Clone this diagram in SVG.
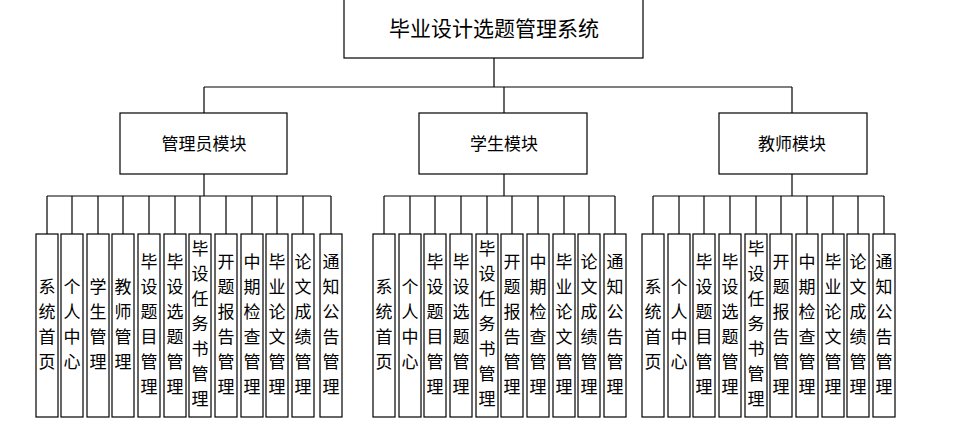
<svg xmlns="http://www.w3.org/2000/svg" width="963" height="430" viewBox="0 0 963 430">
<style>
rect{fill:#fff;stroke:#000;stroke-width:1.2}
path{fill:none;stroke:#000;stroke-width:1.2}
text{font-family:"Noto Sans CJK SC",sans-serif;fill:#000;text-anchor:middle}
.l{font-size:17px}
</style>
<rect width="963" height="430" style="stroke:none"/>
<g id="connectors">
<path d="M494 58V87M204 87H792M204 87V113M504 87V113M792 87V113"/>
<path d="M204 174V196M47 196H331M47 196V234M72 196V234M98 196V234M123 196V234M149 196V234M175 196V234M200 196V234M226 196V234M252 196V234M277 196V234M303 196V234M331 196V234"/>
<path d="M504 174V196M384 196H615M384 196V234M410 196V234M435 196V234M461 196V234M487 196V234M512 196V234M538 196V234M564 196V234M589 196V234M615 196V234"/>
<path d="M792 174V196M653 196H884M653 196V234M679 196V234M704 196V234M730 196V234M756 196V234M781 196V234M807 196V234M833 196V234M858 196V234M884 196V234"/>
</g>
<g id="root"><rect x="344" y="-1" width="299" height="59"/><text x="494" y="36" font-size="21">毕业设计选题管理系统</text></g>
<g id="m1"><rect x="120" y="113" width="167" height="61"/><text x="204" y="150" font-size="17">管理员模块</text></g>
<g id="m2"><rect x="419" y="113" width="168" height="61"/><text x="504" y="150" font-size="17">学生模块</text></g>
<g id="m3"><rect x="719" y="113" width="148" height="61"/><text x="792" y="150" font-size="17">教师模块</text></g>
<g id="a1"><rect x="36" y="234" width="22" height="183"/><text class="l" x="47"><tspan x="47" y="293">系</tspan><tspan x="47" dy="25">统</tspan><tspan x="47" dy="25">首</tspan><tspan x="47" dy="25">页</tspan></text></g>
<g id="a2"><rect x="61" y="234" width="22" height="183"/><text class="l" x="72"><tspan x="72" y="293">个</tspan><tspan x="72" dy="25">人</tspan><tspan x="72" dy="25">中</tspan><tspan x="72" dy="25">心</tspan></text></g>
<g id="a3"><rect x="87" y="234" width="22" height="183"/><text class="l"><tspan x="98" y="293">学</tspan><tspan x="98" dy="25">生</tspan><tspan x="98" dy="25">管</tspan><tspan x="98" dy="25">理</tspan></text></g>
<g id="a4"><rect x="112" y="234" width="22" height="183"/><text class="l"><tspan x="123" y="293">教</tspan><tspan x="123" dy="25">师</tspan><tspan x="123" dy="25">管</tspan><tspan x="123" dy="25">理</tspan></text></g>
<g id="a5"><rect x="138" y="234" width="22" height="183"/><text class="l"><tspan x="149" y="268">毕</tspan><tspan x="149" dy="25">设</tspan><tspan x="149" dy="25">题</tspan><tspan x="149" dy="25">目</tspan><tspan x="149" dy="25">管</tspan><tspan x="149" dy="25">理</tspan></text></g>
<g id="a6"><rect x="164" y="234" width="22" height="183"/><text class="l"><tspan x="175" y="268">毕</tspan><tspan x="175" dy="25">设</tspan><tspan x="175" dy="25">选</tspan><tspan x="175" dy="25">题</tspan><tspan x="175" dy="25">管</tspan><tspan x="175" dy="25">理</tspan></text></g>
<g id="a7"><rect x="189" y="234" width="22" height="183"/><text class="l"><tspan x="200" y="255">毕</tspan><tspan x="200" dy="25">设</tspan><tspan x="200" dy="25">任</tspan><tspan x="200" dy="25">务</tspan><tspan x="200" dy="25">书</tspan><tspan x="200" dy="25">管</tspan><tspan x="200" dy="25">理</tspan></text></g>
<g id="a8"><rect x="215" y="234" width="22" height="183"/><text class="l"><tspan x="226" y="268">开</tspan><tspan x="226" dy="25">题</tspan><tspan x="226" dy="25">报</tspan><tspan x="226" dy="25">告</tspan><tspan x="226" dy="25">管</tspan><tspan x="226" dy="25">理</tspan></text></g>
<g id="a9"><rect x="241" y="234" width="22" height="183"/><text class="l"><tspan x="252" y="268">中</tspan><tspan x="252" dy="25">期</tspan><tspan x="252" dy="25">检</tspan><tspan x="252" dy="25">查</tspan><tspan x="252" dy="25">管</tspan><tspan x="252" dy="25">理</tspan></text></g>
<g id="a10"><rect x="266" y="234" width="22" height="183"/><text class="l"><tspan x="277" y="268">毕</tspan><tspan x="277" dy="25">业</tspan><tspan x="277" dy="25">论</tspan><tspan x="277" dy="25">文</tspan><tspan x="277" dy="25">管</tspan><tspan x="277" dy="25">理</tspan></text></g>
<g id="a11"><rect x="292" y="234" width="22" height="183"/><text class="l"><tspan x="303" y="268">论</tspan><tspan x="303" dy="25">文</tspan><tspan x="303" dy="25">成</tspan><tspan x="303" dy="25">绩</tspan><tspan x="303" dy="25">管</tspan><tspan x="303" dy="25">理</tspan></text></g>
<g id="a12"><rect x="320" y="234" width="22" height="183"/><text class="l"><tspan x="331" y="268">通</tspan><tspan x="331" dy="25">知</tspan><tspan x="331" dy="25">公</tspan><tspan x="331" dy="25">告</tspan><tspan x="331" dy="25">管</tspan><tspan x="331" dy="25">理</tspan></text></g>
<g id="s1"><rect x="373" y="234" width="22" height="183"/><text class="l"><tspan x="384" y="293">系</tspan><tspan x="384" dy="25">统</tspan><tspan x="384" dy="25">首</tspan><tspan x="384" dy="25">页</tspan></text></g>
<g id="s2"><rect x="399" y="234" width="22" height="183"/><text class="l"><tspan x="410" y="293">个</tspan><tspan x="410" dy="25">人</tspan><tspan x="410" dy="25">中</tspan><tspan x="410" dy="25">心</tspan></text></g>
<g id="s3"><rect x="424" y="234" width="22" height="183"/><text class="l"><tspan x="435" y="268">毕</tspan><tspan x="435" dy="25">设</tspan><tspan x="435" dy="25">题</tspan><tspan x="435" dy="25">目</tspan><tspan x="435" dy="25">管</tspan><tspan x="435" dy="25">理</tspan></text></g>
<g id="s4"><rect x="450" y="234" width="22" height="183"/><text class="l"><tspan x="461" y="268">毕</tspan><tspan x="461" dy="25">设</tspan><tspan x="461" dy="25">选</tspan><tspan x="461" dy="25">题</tspan><tspan x="461" dy="25">管</tspan><tspan x="461" dy="25">理</tspan></text></g>
<g id="s5"><rect x="476" y="234" width="22" height="183"/><text class="l"><tspan x="487" y="255">毕</tspan><tspan x="487" dy="25">设</tspan><tspan x="487" dy="25">任</tspan><tspan x="487" dy="25">务</tspan><tspan x="487" dy="25">书</tspan><tspan x="487" dy="25">管</tspan><tspan x="487" dy="25">理</tspan></text></g>
<g id="s6"><rect x="501" y="234" width="22" height="183"/><text class="l"><tspan x="512" y="268">开</tspan><tspan x="512" dy="25">题</tspan><tspan x="512" dy="25">报</tspan><tspan x="512" dy="25">告</tspan><tspan x="512" dy="25">管</tspan><tspan x="512" dy="25">理</tspan></text></g>
<g id="s7"><rect x="527" y="234" width="22" height="183"/><text class="l"><tspan x="538" y="268">中</tspan><tspan x="538" dy="25">期</tspan><tspan x="538" dy="25">检</tspan><tspan x="538" dy="25">查</tspan><tspan x="538" dy="25">管</tspan><tspan x="538" dy="25">理</tspan></text></g>
<g id="s8"><rect x="553" y="234" width="22" height="183"/><text class="l"><tspan x="564" y="268">毕</tspan><tspan x="564" dy="25">业</tspan><tspan x="564" dy="25">论</tspan><tspan x="564" dy="25">文</tspan><tspan x="564" dy="25">管</tspan><tspan x="564" dy="25">理</tspan></text></g>
<g id="s9"><rect x="578" y="234" width="22" height="183"/><text class="l"><tspan x="589" y="268">论</tspan><tspan x="589" dy="25">文</tspan><tspan x="589" dy="25">成</tspan><tspan x="589" dy="25">绩</tspan><tspan x="589" dy="25">管</tspan><tspan x="589" dy="25">理</tspan></text></g>
<g id="s10"><rect x="604" y="234" width="22" height="183"/><text class="l"><tspan x="615" y="268">通</tspan><tspan x="615" dy="25">知</tspan><tspan x="615" dy="25">公</tspan><tspan x="615" dy="25">告</tspan><tspan x="615" dy="25">管</tspan><tspan x="615" dy="25">理</tspan></text></g>
<g id="t1"><rect x="642" y="234" width="22" height="183"/><text class="l"><tspan x="653" y="293">系</tspan><tspan x="653" dy="25">统</tspan><tspan x="653" dy="25">首</tspan><tspan x="653" dy="25">页</tspan></text></g>
<g id="t2"><rect x="668" y="234" width="22" height="183"/><text class="l"><tspan x="679" y="293">个</tspan><tspan x="679" dy="25">人</tspan><tspan x="679" dy="25">中</tspan><tspan x="679" dy="25">心</tspan></text></g>
<g id="t3"><rect x="693" y="234" width="22" height="183"/><text class="l"><tspan x="704" y="268">毕</tspan><tspan x="704" dy="25">设</tspan><tspan x="704" dy="25">题</tspan><tspan x="704" dy="25">目</tspan><tspan x="704" dy="25">管</tspan><tspan x="704" dy="25">理</tspan></text></g>
<g id="t4"><rect x="719" y="234" width="22" height="183"/><text class="l"><tspan x="730" y="268">毕</tspan><tspan x="730" dy="25">设</tspan><tspan x="730" dy="25">选</tspan><tspan x="730" dy="25">题</tspan><tspan x="730" dy="25">管</tspan><tspan x="730" dy="25">理</tspan></text></g>
<g id="t5"><rect x="745" y="234" width="22" height="183"/><text class="l"><tspan x="756" y="255">毕</tspan><tspan x="756" dy="25">设</tspan><tspan x="756" dy="25">任</tspan><tspan x="756" dy="25">务</tspan><tspan x="756" dy="25">书</tspan><tspan x="756" dy="25">管</tspan><tspan x="756" dy="25">理</tspan></text></g>
<g id="t6"><rect x="770" y="234" width="22" height="183"/><text class="l"><tspan x="781" y="268">开</tspan><tspan x="781" dy="25">题</tspan><tspan x="781" dy="25">报</tspan><tspan x="781" dy="25">告</tspan><tspan x="781" dy="25">管</tspan><tspan x="781" dy="25">理</tspan></text></g>
<g id="t7"><rect x="796" y="234" width="22" height="183"/><text class="l"><tspan x="807" y="268">中</tspan><tspan x="807" dy="25">期</tspan><tspan x="807" dy="25">检</tspan><tspan x="807" dy="25">查</tspan><tspan x="807" dy="25">管</tspan><tspan x="807" dy="25">理</tspan></text></g>
<g id="t8"><rect x="822" y="234" width="22" height="183"/><text class="l"><tspan x="833" y="268">毕</tspan><tspan x="833" dy="25">业</tspan><tspan x="833" dy="25">论</tspan><tspan x="833" dy="25">文</tspan><tspan x="833" dy="25">管</tspan><tspan x="833" dy="25">理</tspan></text></g>
<g id="t9"><rect x="847" y="234" width="22" height="183"/><text class="l"><tspan x="858" y="268">论</tspan><tspan x="858" dy="25">文</tspan><tspan x="858" dy="25">成</tspan><tspan x="858" dy="25">绩</tspan><tspan x="858" dy="25">管</tspan><tspan x="858" dy="25">理</tspan></text></g>
<g id="t10"><rect x="873" y="234" width="22" height="183"/><text class="l"><tspan x="884" y="268">通</tspan><tspan x="884" dy="25">知</tspan><tspan x="884" dy="25">公</tspan><tspan x="884" dy="25">告</tspan><tspan x="884" dy="25">管</tspan><tspan x="884" dy="25">理</tspan></text></g>
</svg>
